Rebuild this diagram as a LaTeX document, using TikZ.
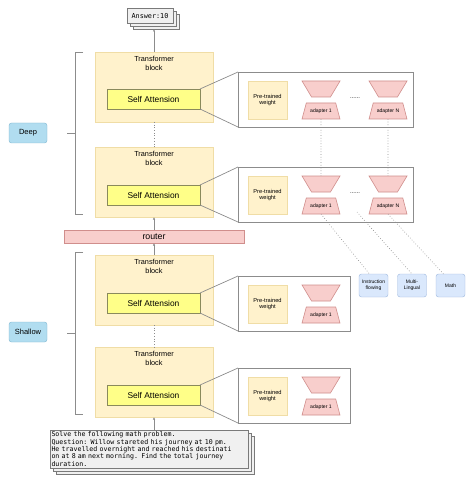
\documentclass[tikz,border=0pt]{standalone}
\usepackage{fontspec}
\setmainfont{Liberation Sans}
\setmonofont{DejaVu Sans Mono}
\usetikzlibrary{shapes.geometric,shadows,arrows.meta}
\definecolor{blkfill}{HTML}{FFF2CC}
\definecolor{blkline}{HTML}{F0DDA6}
\definecolor{safill}{HTML}{FFFF88}
\definecolor{saline}{HTML}{8A8A5C}
\definecolor{adfill}{HTML}{F8CECC}
\definecolor{adline}{HTML}{D08E8C}
\definecolor{lvfill}{HTML}{B1DDF0}
\definecolor{lvline}{HTML}{7FB5CF}
\definecolor{tkfill}{HTML}{DAE8FC}
\definecolor{tkline}{HTML}{9DB7DD}
\definecolor{pnline}{HTML}{8C8C8C}
\definecolor{iofill}{HTML}{F0F0F0}
\definecolor{ioline}{HTML}{7A7A7A}
\newcommand{\fs}[2]{\fontsize{#1}{#2}\selectfont}

\begin{document}
\begin{tikzpicture}[x=1pt, y=-1pt,
every node/.style={inner sep=0pt, outer sep=0pt},
wire/.style={draw=pnline, line width=0.7pt},
flow/.style={wire, -{Latex[length=2.5pt,width=2.2pt]}},
gap/.style={wire, dotted, line width=0.8pt},
block/.style={fill=blkfill, draw=blkline, line width=0.6pt, minimum width=118, minimum height=70},
ttl/.style={anchor=north, align=center, font=\fs{7.3}{9}, yshift=-4.5pt},
attn/.style={fill=safill, draw=saline, line width=0.6pt, minimum width=93, minimum height=20, font=\fs{8.4}{10}},
panel/.style={draw=pnline, fill=white, line width=0.8pt, minimum height=55, anchor=north west},
weight/.style={fill=blkfill, draw=blkline, minimum width=39, minimum height=38, align=center, font=\fs{5.7}{6.7}},
adapt/.style={trapezium, trapezium stretches=true, trapezium left angle=63, trapezium right angle=63,
  inner sep=1pt, fill=adfill, draw=adline, line width=0.6pt, minimum width=38, minimum height=16, font=\fs{5.1}{6}},
adtop/.style={adapt, shape border rotate=180},
tier/.style={fill=lvfill, draw=lvline, rounded corners=2.5pt, minimum width=38, minimum height=20, font=\fs{7.5}{9}},
task/.style={fill=tkfill, draw=tkline, rounded corners=2.5pt, minimum width=29, minimum height=23, align=center, font=\fs{5}{6.3}},
stack/.style={fill=iofill, draw=ioline, line width=0.6pt, double copy shadow={shadow xshift=3pt, shadow yshift=-3pt}},
]
\useasboundingbox (0,0) rectangle (474,481);

% output
\node[stack, font=\ttfamily\fs{6.8}{8}, minimum width=46, minimum height=15] (ans) at (150,16) {Answer:10};

% deep layers
\node[block, label={[ttl]north:Transformer\\block}] (b1) at (154,87) {};
\node[attn] (sa1) at (153.5,99) {Self Attension};
\node[block, label={[ttl]north:Transformer\\block}] (b2) at (154,182) {};
\node[attn] (sa2) at (153.5,195) {Self Attension};

\node[fill=adfill, draw=adline, line width=0.6pt, minimum width=180, minimum height=13, font=\fs{8.8}{10}] (rt) at (154,236.5) {router};

% shallow layers
\node[block, label={[ttl]north:Transformer\\block}] (b3) at (154,290) {};
\node[attn] (sa3) at (153.5,303) {Self Attension};
\node[block, label={[ttl]north:Transformer\\block}] (b4) at (154,382) {};
\node[attn] (sa4) at (153.5,395) {Self Attension};

% input
\node[stack, anchor=north west, text width=195, inner sep=1.5pt, minimum height=34, align=left,
  font=\ttfamily\fs{6.6}{6.4}] (q) at (50,430)
  {Solve the following math problem.\\Question: Willow stareted his journey at 10 pm.\\He travelled overnight and reached his destinati\\on at 8 am next morning. Find the total journey\\duration.};

% panels
\node[panel, minimum width=175] (p1) at (238,72) {};
\node[weight] (w1) at (267.5,100) {Pre-trained\\weight};
\node[adtop] (a1t) at (321,89) {};
\node[adapt] (a1b) at (321,111) {adapter 1};
\node[font=\fs{6}{7}] (d1) at (355,98) {......};
\node[adtop] (n1t) at (388,89) {};
\node[adapt] (n1b) at (388,111) {adapter N};

\node[panel, minimum width=175] (p2) at (238,167) {};
\node[weight] (w2) at (267.5,195) {Pre-trained\\weight};
\node[adtop] (a2t) at (321,184) {};
\node[adapt] (a2b) at (321,206) {adapter 1};
\node[font=\fs{6}{7}] (d2) at (355,193) {......};
\node[adtop] (n2t) at (388,184) {};
\node[adapt] (n2b) at (388,206) {adapter N};
\coordinate (d2x) at (357,212);

\node[panel, minimum width=112] (p3) at (238,276) {};
\node[weight] (w3) at (267.5,304) {Pre-trained\\weight};
\node[adtop] (a3t) at (321,293) {};
\node[adapt] (a3b) at (321,315) {adapter 1};

\node[panel, minimum width=112] (p4) at (238,368) {};
\node[weight] (w4) at (267.5,396) {Pre-trained\\weight};
\node[adtop] (a4t) at (321,385) {};
\node[adapt] (a4b) at (321,407) {adapter 1};

% tasks
\node[task] (t1) at (373.5,285.5) {Instruction\\flowing};
\node[task] (t2) at (412,285.5) {Multi-\\Lingual};
\node[task] (t3) at (450.5,285.5) {Math};

% depth labels
\node[tier] (deep) at (28,133) {Deep};
\node[tier] (shal) at (28,332) {Shallow};
\draw[wire] (83,52) -- (75,52) -- (75,214) -- (83,214) (67,133) -- (75,133);
\draw[wire] (83,252) -- (75,252) -- (75,414) -- (83,414) (67,333) -- (75,333);

% flow
\draw[flow] (b4.south |- q.north) -- (b4.south);
\draw[flow] (b3.north) -- (rt.south);
\draw[flow] (rt.north) -- (b2.south);
\draw[flow, shorten >=5.5pt] (b1.north) -- (b1.north |- ans.south);
\draw[gap] (b1.south) -- (b2.north);
\draw[gap] (b3.south) -- (b4.north);

% callouts
\draw[wire] (sa1.north east) -- (p1.north west) (sa1.south east) -- (p1.south west);
\draw[wire] (sa2.north east) -- (p2.north west) (sa2.south east) -- (p2.south west);
\draw[wire] (sa3.north east) -- (p3.north west) (sa3.south east) -- (p3.south west);
\draw[wire] (sa4.north east) -- (p4.north west) (sa4.south east) -- (p4.south west);

% adapters
\draw[gap] (a1b.south) -- (a2t.north);
\draw[gap] (n1b.south) -- (n2t.north);
\draw[gap, line width=0.6pt] (a2b.south) -- ([xshift=-4pt]t1.north);
\draw[gap, line width=0.6pt] (d2x) -- (t2.north);
\draw[gap, line width=0.6pt] (n2b.south) -- ([xshift=-7pt]t3.north);
\end{tikzpicture}
\end{document}
